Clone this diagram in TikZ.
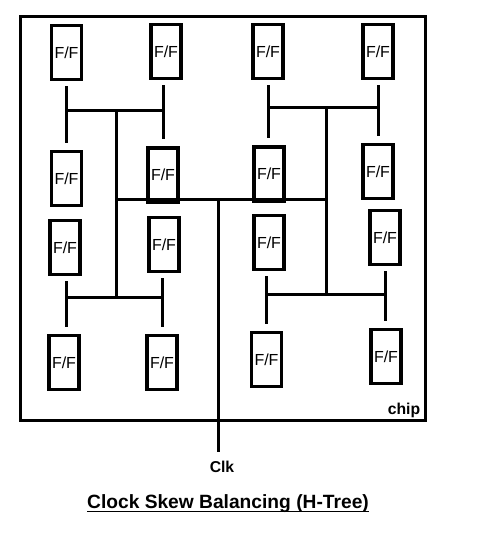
\documentclass[tikz,border=0pt]{standalone}
\usepackage{fontspec}
\setmainfont{Liberation Sans}
\usepackage{tikz}
\usetikzlibrary{shapes,arrows.meta}

\newcommand{\thickul}[1]{\setbox0\hbox{#1}\rlap{\rule[-2.6pt]{\wd0}{1.4pt}}\box0}

\begin{document}
\begin{tikzpicture}[x=0.75pt,y=-0.75pt]
	\useasboundingbox (0,0) rectangle (480,538);
		\begin{scope}
			[
				styleFF/.style={
					minimum width = 22.5pt, minimum height = 40.5pt,
					inner sep = 0pt, draw, line width = 2.4pt,
					font = \fontsize{12}{14}\selectfont
					},
				styleChip/.style={minimum width = 303.75pt, minimum height = 303pt, draw, line width = 2.4pt},
				styleLabel/.style={font = \fontsize{11.8}{14}\selectfont\bfseries},
			]
			\node(chip)[styleChip] at (223,218.5) {};
			\node(chipText)[styleLabel] at (404,410) {chip};

			\node(ffa1)[styleFF] at (66.5,52.5) {F/F};
			\node(ffa2)[styleFF] at (166,51.5) {F/F};
			\node(ffa3)[styleFF] at (268,51.5) {F/F};
			\node(ffa4)[styleFF] at (378,51.5) {F/F};

			\node(ffb1)[styleFF] at (66.5,178.5) {F/F};
			\node(ffb2)[styleFF] at (163,175) {F/F};
			\node(ffb3)[styleFF] at (269,174) {F/F};
			\node(ffb4)[styleFF] at (378,171.5) {F/F};

			\node(ffc1)[styleFF] at (65,247.5) {F/F};
			\node(ffc2)[styleFF] at (164,244.5) {F/F};
			\node(ffc3)[styleFF] at (269,242.5) {F/F};
			\node(ffc4)[styleFF] at (385,237.5) {F/F};

			\node(ffd1)[styleFF] at (64,362.5) {F/F};
			\node(ffd2)[styleFF] at (162,362.5) {F/F};
			\node(ffd3)[styleFF] at (266.5,359.5) {F/F};
			\node(ffd4)[styleFF] at (386,356.5) {F/F};

			% junctions of the H-tree
			\coordinate(tlL) at (66,111);
			\coordinate(tlM) at (116,111);
			\coordinate(tlR) at (163,111);
			\coordinate(trL) at (268,108);
			\coordinate(trM) at (326,108);
			\coordinate(trR) at (378,108);
			\coordinate(blL) at (66,297);
			\coordinate(blM) at (116,297);
			\coordinate(blR) at (162,297);
			\coordinate(brL) at (266,294);
			\coordinate(brM) at (326,294);
			\coordinate(brR) at (385,294);
			\coordinate(cL) at (116,200);
			\coordinate(cM) at (218,200);
			\coordinate(cR) at (326,200);
			\coordinate(clkEnd) at (218,452);

			\node(clk)[styleLabel] at (222,467) {Clk};
			\node(title)[font = \fontsize{14.4}{17}\selectfont\bfseries] at (228,504) {\thickul{Clock Skew Balancing (H-Tree)}};
		\end{scope}

		\begin{scope}
			[ wire/.style = {line width = 2.25pt},
				leg/.style = {wire, shorten <=4pt, shorten >=5.5pt}]
			\path
			(tlL) edge[wire]					(tlR)
			(trL) edge[wire]					(trR)
			(blL) edge[wire]					(blR)
			(brL) edge[wire]					(brR)
			(cL) edge[wire]						(cR)
			(tlM) edge[wire]					(blM)
			(trM) edge[wire]					(brM)
			(cM) edge[wire]						(clkEnd)

			(ffa1.south -| tlL) edge[leg]		(ffb1.north -| tlL)
			(ffa2.south -| tlR) edge[leg]		(ffb2.north -| tlR)
			(ffa3.south -| trL) edge[leg]		(ffb3.north -| trL)
			(ffa4.south -| trR) edge[leg]		(ffb4.north -| trR)
			(ffc1.south -| blL) edge[leg]		(ffd1.north -| blL)
			(ffc2.south -| blR) edge[leg]		(ffd2.north -| blR)
			(ffc3.south -| brL) edge[leg]		(ffd3.north -| brL)
			(ffc4.south -| brR) edge[leg]		(ffd4.north -| brR);
		\end{scope}
	\end{tikzpicture}
\end{document}
